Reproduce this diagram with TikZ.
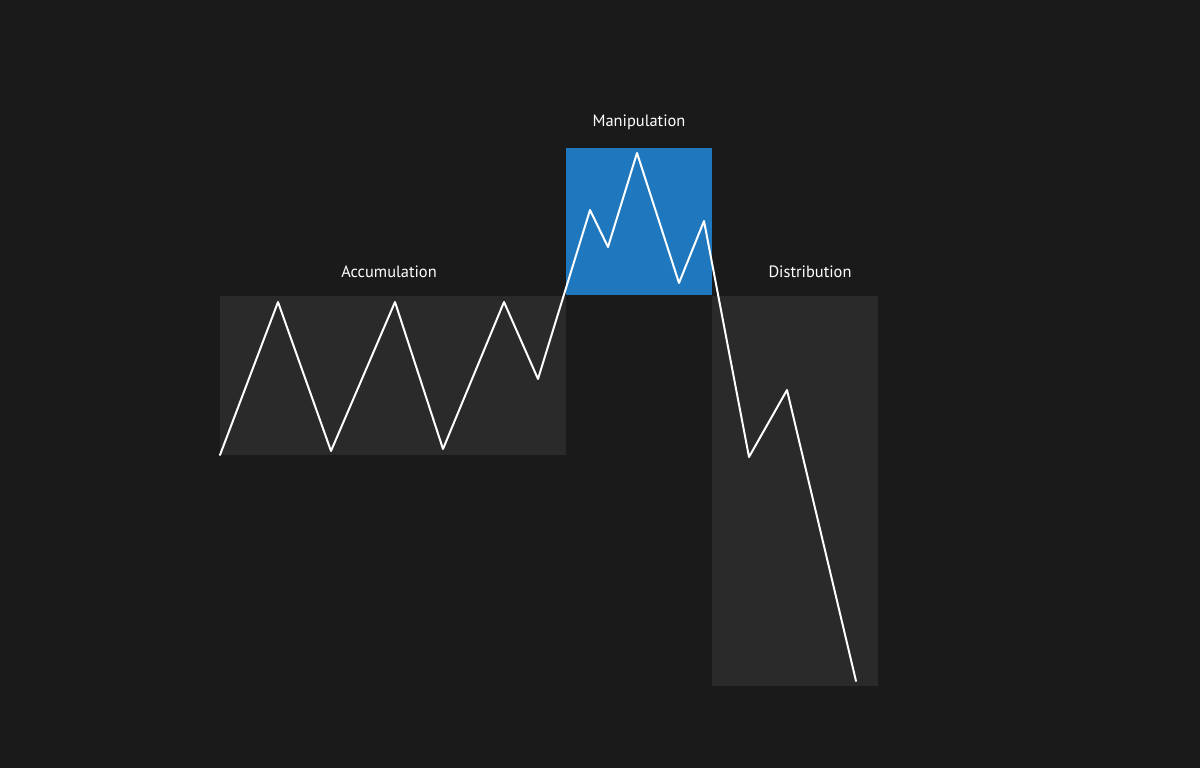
\documentclass[tikz,border=0pt]{standalone}
\usepackage{fontspec}
\setmainfont{PT Sans}
\definecolor{bgdark}{HTML}{1A1A1A}
\definecolor{zonegray}{HTML}{2A2A2A}
\definecolor{manblue}{HTML}{1F78BE}
\begin{document}
\begin{tikzpicture}[x=0.03cm, y=-0.03cm, font=\fontsize{14}{16}\selectfont, line join=round, line cap=round]
            \def\W{1200} \def\H{768}
            \fill[bgdark] (0,0) rectangle (\W,\H);
            \useasboundingbox (0,0) rectangle (\W,\H);
            % zones
            \fill[zonegray] (220,296) rectangle (566,455);
            \fill[manblue] (566,148) rectangle (712,295);
            \fill[zonegray] (712,296) rectangle (878,686);
            \node[text=white] (acc) at (389,272) {Accumulation};
            \node[text=white] (man) at (639,122) {Manipulation};
            \node[text=white] (dis) at (810,272) {Distribution};
            % price path
            \draw[white, line width=1.7pt] (220,455)--(278,302)--(331,451)--(395,302)--(443,449)--(504,302)--(538,379)
                --(590,210)--(608,247)--(637,153)--(679,283)--(704,221)
                --(749,457)--(787,390)--(856,681);
        \end{tikzpicture}
\end{document}
